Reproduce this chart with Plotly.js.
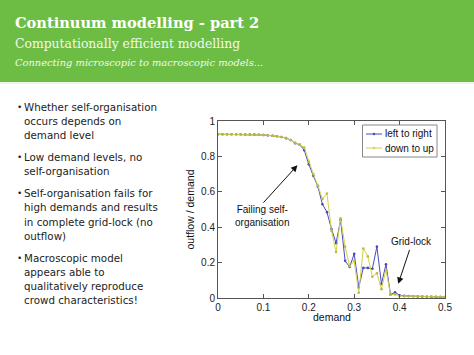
<!DOCTYPE html>
<html>
<head>
<meta charset="utf-8">
<script src="https://cdn.plot.ly/plotly-3.0.1.min.js"></script>
<style>html,body{margin:0;padding:0;background:#fff;}#chart{width:474px;height:355px;}</style>
</head>
<body>
<div id="chart"></div>
<script>
// ---- data ----
var demand = [0.00,0.01,0.02,0.03,0.04,0.05,0.06,0.07,0.08,0.09,
              0.10,0.11,0.12,0.13,0.14,0.15,0.16,0.17,0.18,0.19,
              0.20,0.21,0.22,0.23,0.24,0.25,0.26,0.27,0.28,0.29,
              0.30,0.31,0.32,0.33,0.34,0.35,0.36,0.37,0.38,0.39,
              0.40,0.41,0.42,0.43,0.44,0.45,0.46,0.47,0.48,0.49,0.50];
var leftToRight = [0.925,0.925,0.925,0.925,0.925,0.925,0.924,0.924,0.923,0.922,
                   0.921,0.919,0.917,0.914,0.910,0.903,0.893,0.875,0.866,0.835,
                   0.755,0.690,0.630,0.530,0.485,0.390,0.310,0.440,0.210,0.175,
                   0.250,0.060,0.170,0.170,0.165,0.290,0.080,0.190,0.020,0.032,
                   0.015,0.012,0.011,0.010,0.009,0.008,0.007,0.007,0.006,0.006,0.005];
var downToUp = [0.925,0.925,0.925,0.925,0.925,0.925,0.924,0.924,0.923,0.922,
                0.921,0.919,0.917,0.914,0.910,0.903,0.893,0.877,0.866,0.850,
                0.770,0.700,0.635,0.560,0.590,0.380,0.260,0.450,0.290,0.180,
                0.210,0.030,0.280,0.235,0.120,0.140,0.050,0.160,0.020,0.020,
                0.012,0.010,0.010,0.010,0.010,0.010,0.008,0.008,0.008,0.007,0.006];
var seriesNames = ['left to right', 'down to up'];
var seriesColors = ['#4a4ac0', '#d2d24a'];
var xTicks = [0, 0.1, 0.2, 0.3, 0.4, 0.5];
var yTicks = [0, 0.2, 0.4, 0.6, 0.8, 1];

var slideTitle = 'Continuum modelling - part 2';
var slideSubtitle = 'Computationally efficient modelling';
var slideTagline = 'Connecting microscopic to macroscopic models...';
var bullets = [
  ['Whether self-organisation', 'occurs depends on', 'demand level'],
  ['Low demand levels, no', 'self-organisation'],
  ['Self-organisation fails for', 'high demands and results', 'in complete grid-lock (no', 'outflow)'],
  ['Macroscopic model', 'appears able to', 'qualitatively reproduce', 'crowd characteristics!']
];

// ---- layout helpers (pixel -> paper) ----
var W = 474, H = 355;
function px(x){ return x / W; }
function py(y){ return 1 - y / H; }

var annotations = [];
var shapes = [
  {type:'rect', xref:'paper', yref:'paper', x0:0, x1:1, y0:py(82), y1:1,
   fillcolor:'#6dbd45', line:{width:0}, layer:'below'},
  {type:'line', xref:'paper', yref:'paper', x0:0, x1:1, y0:py(83), y1:py(83),
   line:{color:'#dfe9d8', width:1}, layer:'below'}
];

// header texts
annotations.push({xref:'paper', yref:'paper', x:px(13), y:py(22), xanchor:'left', yanchor:'middle',
  text:'<b>' + slideTitle + '</b>', showarrow:false,
  font:{family:'DejaVu Serif', size:14.6, color:'#ffffff'}});
annotations.push({xref:'paper', yref:'paper', x:px(13), y:py(43.5), xanchor:'left', yanchor:'middle',
  text:slideSubtitle, showarrow:false,
  font:{family:'DejaVu Serif', size:12.4, color:'#f4f8f0'}});
annotations.push({xref:'paper', yref:'paper', x:px(13), y:py(63), xanchor:'left', yanchor:'middle',
  text:'<i>' + slideTagline + '</i>', showarrow:false,
  font:{family:'DejaVu Serif', size:9.9, color:'#f4f8f0'}});

// bullets
var yy = 106.7;
bullets.forEach(function(group){
  group.forEach(function(line, i){
    if (i === 0) {
      annotations.push({xref:'paper', yref:'paper', x:px(14.5), y:py(yy), xanchor:'left', yanchor:'middle',
        text:'•', showarrow:false, font:{family:'DejaVu Sans', size:9, color:'#222'}});
    }
    annotations.push({xref:'paper', yref:'paper', x:px(21.5), y:py(yy), xanchor:'left', yanchor:'middle',
      text:line, showarrow:false, font:{family:'DejaVu Sans', size:10.3, color:'#222'}});
    yy += 14.2;
  });
  yy += 7.8;
});

// chart annotations
annotations.push({xref:'x', yref:'y', axref:'x', ayref:'y', x:0.175, y:0.75, ax:0.097, ay:0.53,
  text:'', showarrow:true, arrowhead:2, arrowsize:1.3, arrowwidth:1, arrowcolor:'#111'});
annotations.push({xref:'x', yref:'y', x:0.097, y:0.462, xanchor:'center', yanchor:'middle',
  text:'Failing self-<br>organisation', showarrow:false,
  font:{family:'Liberation Sans', size:10, color:'#111'}});
annotations.push({xref:'x', yref:'y', axref:'x', ayref:'y', x:0.397, y:0.08, ax:0.423, ay:0.28,
  text:'', showarrow:true, arrowhead:2, arrowsize:1.3, arrowwidth:1, arrowcolor:'#111'});
annotations.push({xref:'x', yref:'y', x:0.427, y:0.318, xanchor:'center', yanchor:'middle',
  text:'Grid-lock', showarrow:false,
  font:{family:'Liberation Sans', size:10, color:'#111'}});

// x axis title
annotations.push({xref:'paper', yref:'paper', x:px(331.5), y:py(317), xanchor:'center', yanchor:'middle',
  text:'demand', showarrow:false, font:{family:'Liberation Sans', size:10.5, color:'#111'}});

// legend (drawn as a MATLAB-style box)
shapes.push({type:'rect', xref:'paper', yref:'paper', x0:px(362.5), x1:px(437), y0:py(157), y1:py(125),
  fillcolor:'#ffffff', line:{color:'#888', width:1}, layer:'above'});
seriesNames.forEach(function(name, i){
  var ly = 134 + i * 14;
  shapes.push({type:'line', xref:'paper', yref:'paper', x0:px(366), x1:px(382), y0:py(ly), y1:py(ly),
    line:{color:seriesColors[i], width:1}, layer:'above'});
  shapes.push({type:'circle', xref:'paper', yref:'paper', x0:px(372.8), x1:px(375.2), y0:py(ly+1.2), y1:py(ly-1.2),
    fillcolor:seriesColors[i], line:{width:0}, layer:'above'});
  annotations.push({xref:'paper', yref:'paper', x:px(383), y:py(ly), xanchor:'left', yanchor:'middle',
    text:name, showarrow:false, font:{family:'Liberation Sans', size:10, color:'#111'}});
});

var traces = [
  {x:demand, y:leftToRight, name:seriesNames[0], type:'scatter', mode:'lines+markers',
   line:{color:seriesColors[0], width:1}, marker:{color:seriesColors[0], size:2.6}},
  {x:demand, y:downToUp, name:seriesNames[1], type:'scatter', mode:'lines+markers',
   line:{color:seriesColors[1], width:1}, marker:{color:'#baba44', size:2.6}}
];

var axisCommon = {showline:true, linecolor:'#555', linewidth:1, mirror:'ticks', ticks:'inside',
  ticklen:4, tickcolor:'#555', showgrid:false, zeroline:false,
  tickfont:{family:'Liberation Sans', size:10, color:'#222'}};

var layout = {
  width:W, height:H, margin:{l:0, r:0, t:0, b:0},
  paper_bgcolor:'#ffffff', plot_bgcolor:'#ffffff',
  showlegend:false,
  xaxis:Object.assign({}, axisCommon, {domain:[px(218), px(445)], range:[0, 0.5],
    tickvals:xTicks, ticktext:xTicks.map(String)}),
  yaxis:Object.assign({}, axisCommon, {domain:[py(298), py(121)], range:[0, 1],
    tickvals:yTicks, ticktext:yTicks.map(String),
    title:{text:'outflow / demand', standoff:4, font:{family:'Liberation Sans', size:10.5, color:'#111'}}}),
  shapes:shapes,
  annotations:annotations
};

Plotly.newPlot('chart', traces, layout, {displayModeBar:false, staticPlot:true});
</script>
</body>
</html>
